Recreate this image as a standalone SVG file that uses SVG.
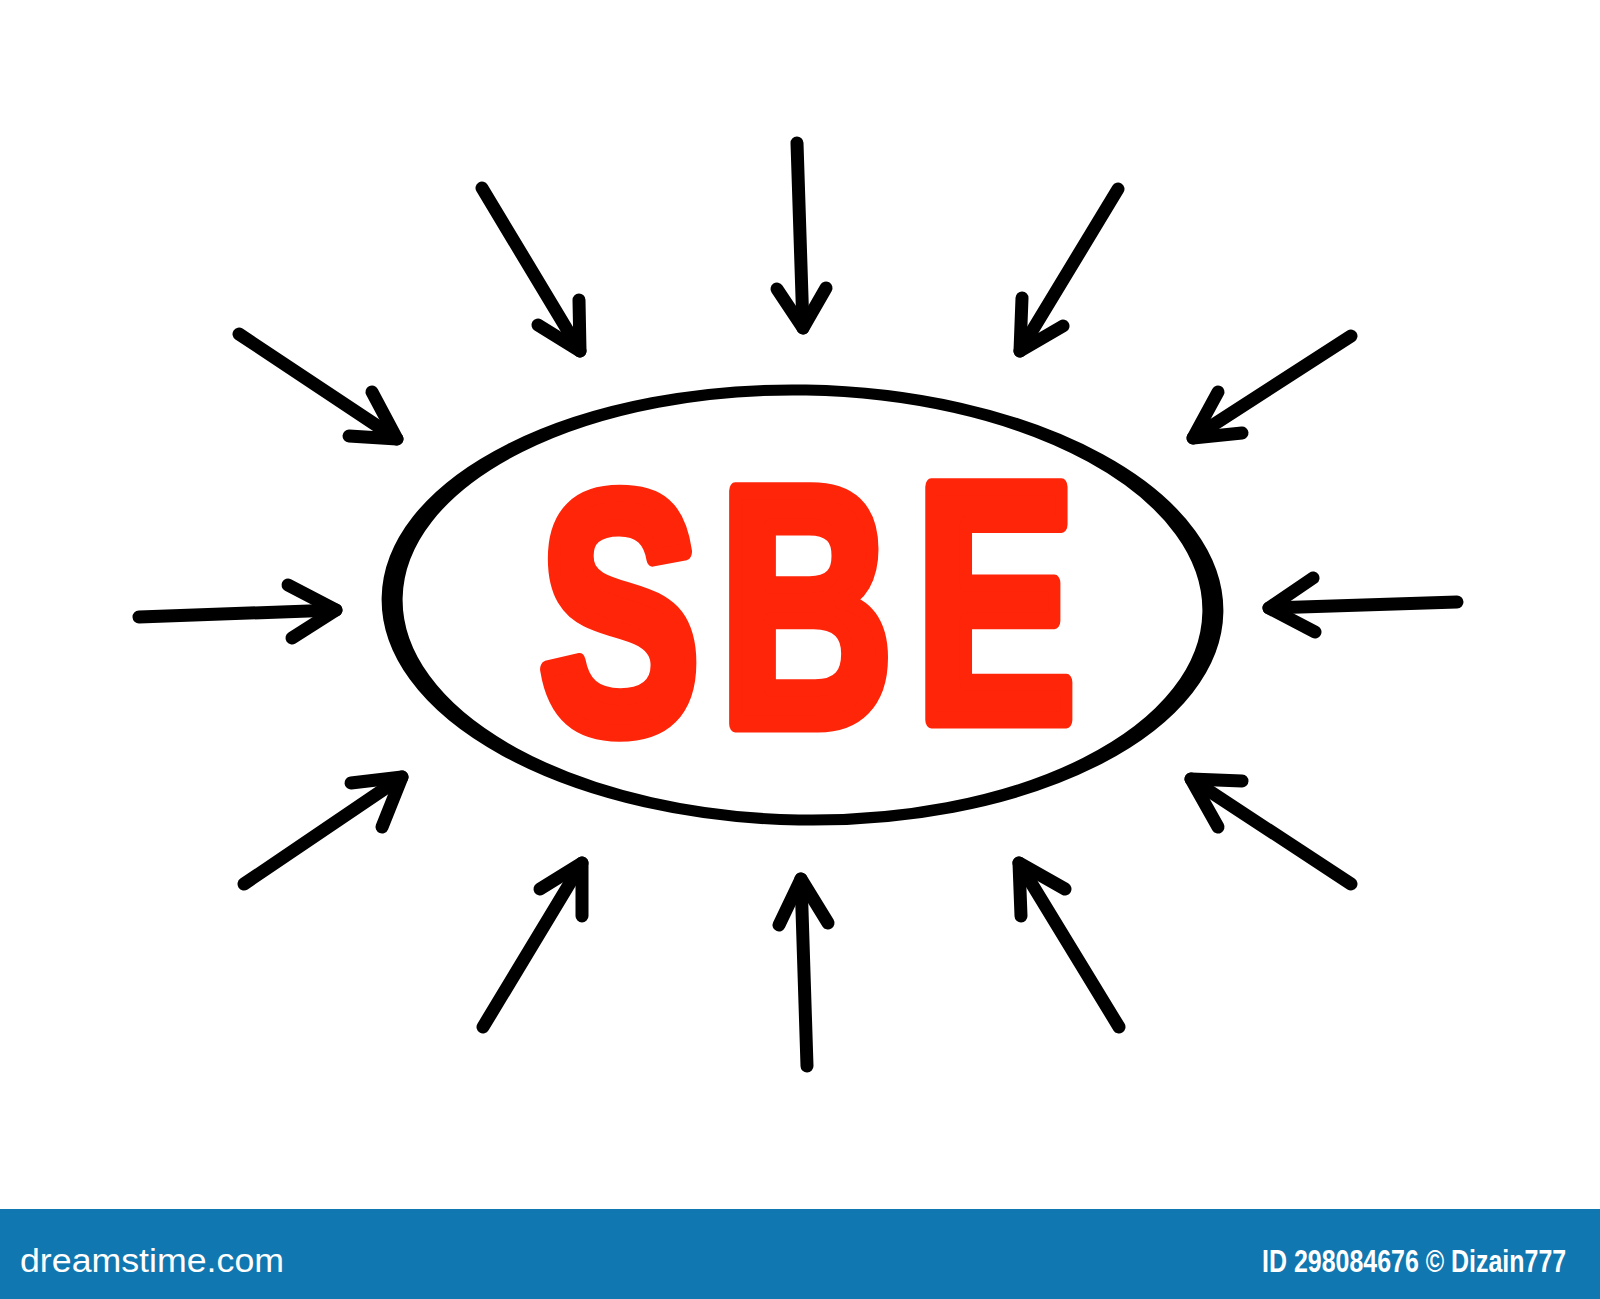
<svg xmlns="http://www.w3.org/2000/svg" width="1600" height="1299" viewBox="0 0 1600 1299">
  <style>
    .arrow { fill: none; stroke: #000; stroke-width: 13; stroke-linecap: round; stroke-linejoin: round; }
    .oval { fill: none; stroke: #000; stroke-width: 11; }
    .sbe { font-family: "Liberation Sans", Arial, sans-serif; font-weight: bold; font-size: 339px; fill: #ff2509; stroke: #ff2509; stroke-width: 17; stroke-linejoin: round; text-anchor: middle; }
    .foot { font-family: "Liberation Sans", Arial, sans-serif; fill: #ffffff; }
  </style>
  <rect x="0" y="0" width="1600" height="1299" fill="#ffffff"/>

  <g id="connectors">
    <g id="arrow-top"><path class="arrow" d="M797,143 L803,328"/><path class="arrow" d="M777,289 L803,328 L826,288"/></g>
    <g id="arrow-top-left"><path class="arrow" d="M482,188 L580,351"/><path class="arrow" d="M538,325 L580,351 L579,300"/></g>
    <g id="arrow-top-right"><path class="arrow" d="M1118,189 L1020,351"/><path class="arrow" d="M1022,298 L1020,351 L1063,326"/></g>
    <g id="arrow-left-upper"><path class="arrow" d="M239,334 L397,439"/><path class="arrow" d="M349,436 L397,439 L372,392"/></g>
    <g id="arrow-right-upper"><path class="arrow" d="M1351,336 L1193,438"/><path class="arrow" d="M1218,392 L1193,438 L1242,433"/></g>
    <g id="arrow-left"><path class="arrow" d="M139,617 L336,610"/><path class="arrow" d="M288,585 L336,610 L292,638"/></g>
    <g id="arrow-right"><path class="arrow" d="M1457,602 L1269,608"/><path class="arrow" d="M1313,578 L1269,608 L1315,632"/></g>
    <g id="arrow-left-lower"><path class="arrow" d="M244,884 L402,777"/><path class="arrow" d="M351,783 L402,777 L382,827"/></g>
    <g id="arrow-right-lower"><path class="arrow" d="M1351,884 L1191,779"/><path class="arrow" d="M1218,827 L1191,779 L1242,781"/></g>
    <g id="arrow-bottom-left"><path class="arrow" d="M483,1027 L582,863"/><path class="arrow" d="M540,889 L582,863 L582,916"/></g>
    <g id="arrow-bottom"><path class="arrow" d="M807,1066 L801,879"/><path class="arrow" d="M779,925 L801,879 L828,923"/></g>
    <g id="arrow-bottom-right"><path class="arrow" d="M1119,1027 L1019,863"/><path class="arrow" d="M1021,916 L1019,863 L1065,889"/></g>
  </g>

  <g id="node-sbe">
    <circle class="oval" cx="0" cy="0" r="215" transform="translate(802.5,605) rotate(1) scale(1.909,1)"/>
    <text class="sbe" transform="scale(0.71,1)" x="872.5 1135.2 1402.1" y="730 724 720">SBE</text>
  </g>

  <g id="footer">
    <rect x="0" y="1209" width="1600" height="90" fill="#1177b0"/>
    <text class="foot" x="20" y="1272" font-size="34" textLength="264" lengthAdjust="spacingAndGlyphs">dreamstime.com</text>
    <text class="foot" transform="translate(1262,1272) scale(0.78,1)" x="0" y="0" font-size="32" font-weight="bold">ID 298084676 © Dizain777</text>
  </g>
</svg>
